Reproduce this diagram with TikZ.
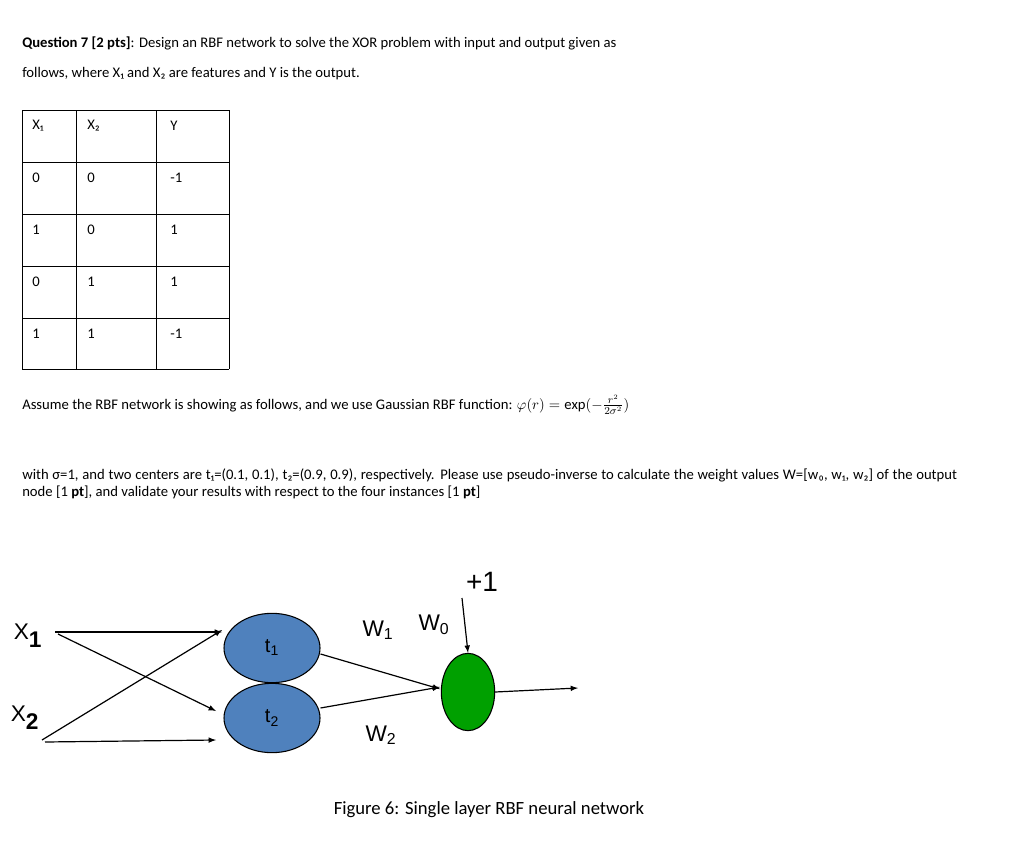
\documentclass[tikz,border=0pt]{standalone}
\usepackage{fontspec}
\usetikzlibrary{shapes.geometric}
\setmainfont{Carlito}
\newfontfamily\arialf{Liberation Sans}
\newfontfamily\timesf{Liberation Serif}
\definecolor{tblue}{RGB}{79,129,189}
\definecolor{ogreen}{RGB}{0,160,0}
\begin{document}
\begin{tikzpicture}[x=0.75pt,y=-0.75pt,
  txt/.style={anchor=west,inner sep=0,font=\fontsize{11}{13}\selectfont},
  cell/.style={inner sep=0,font=\fontsize{11}{13}\selectfont},
  arr/.style={-latex,line width=0.9pt},
  lab/.style={inner sep=0,font=\arialf\fontsize{17}{19}\selectfont},
  tnode/.style={ellipse,draw,line width=0.8pt,fill=tblue,minimum width=72,minimum height=52}]
\useasboundingbox (0,0) rectangle (1029,846);
\fill[white] (0,0) rectangle (1029,846);
\node[txt] (l1) at (22,43) {\textbf{Question 7 [2 pts]}: Design an RBF network to solve the XOR problem with input and output given as};
\node[txt] (l2) at (22,74) {follows, where X₁ and X₂ are features and Y is the output.};
% table
\foreach \x in {22,76,156,229} \draw (\x,110) -- (\x,369);
\foreach \y in {110,162,214,266,318,369} \draw (22,\y) -- (229,\y);
\foreach \r/\a/\b/\c [count=\i] in {0/X₁/X₂/Y,1/0/0/-1,2/1/0/1,3/0/1/1,4/1/1/-1}{
  \node[cell,anchor=west] (a\i) at (32,126+52*\r) {\a};
  \node[cell,anchor=west] (b\i) at (87,126+52*\r) {\b};
  \node[cell,anchor=west] (c\i) at (170,126+52*\r) {\c};
}
\node[txt] (l3) at (22,405) {Assume the RBF network is showing as follows, and we use Gaussian RBF function: {\timesf$\varphi(r)=\mathrm{exp}(-\frac{r^2}{2\sigma^2})$}};
\node[txt,text width=701,align=justify] (l4) at (22,484) {with σ=1, and two centers are t₁=(0.1, 0.1), t₂=(0.9, 0.9), respectively. Please use pseudo-inverse to calculate the weight values W=[w₀, w₁, w₂] of the output node [1 \textbf{pt}], and validate your results with respect to the four instances [1 \textbf{pt}]\hfill\null};
% network
\node[lab] (x1) at (28,636) {X$_{\textbf{\arialf 1}}$};
\node[lab] (x2) at (25,718) {X$_{\textbf{\arialf 2}}$};
\node[tnode] (t1) at (272,648) {\arialf\fontsize{15}{17}\selectfont t\textsubscript{1}};
\node[tnode] (t2) at (272,718) {\arialf\fontsize{15}{17}\selectfont t\textsubscript{2}};
\node[ellipse,draw,line width=0.8pt,fill=ogreen,minimum width=40,minimum height=58] (o) at (468,692) {};
\coordinate (a1) at (55,632); \coordinate (b1) at (222,632);
\coordinate (a2) at (58,634); \coordinate (b2) at (216,711);
\coordinate (a3) at (42,740); \coordinate (b3) at (222,630);
\coordinate (a4) at (45,742); \coordinate (b4) at (216,740);
\draw[arr] (a1) -- (b1); \draw[arr] (a2) -- (b2);
\draw[arr] (a3) -- (b3); \draw[arr] (a4) -- (b4);
\coordinate (p1) at (440,689); \coordinate (p2) at (440,687);
\draw[arr] (t1.east) ++(0,6) -- (p1);
\draw[arr] (t2.east) ++(0,-10) -- (p2);
\coordinate (out) at (578,688);
\draw[arr] (o.east) -- (out);
\node[lab,font=\arialf\fontsize{21}{23}\selectfont] (plus) at (482,582) {+1};
\coordinate (top) at (462,598);
\draw[arr] (top) -- (o.north);
\node[lab] (w1) at (378,630) {W\textsubscript{1}};
\node[lab] (w0) at (434,625) {W\textsubscript{0}};
\node[lab] (w2) at (381,735) {W\textsubscript{2}};
\node[inner sep=0,font=\fontsize{14}{16}\selectfont] (cap) at (489,810) {Figure 6: Single layer RBF neural network};
\end{tikzpicture}
\end{document}
